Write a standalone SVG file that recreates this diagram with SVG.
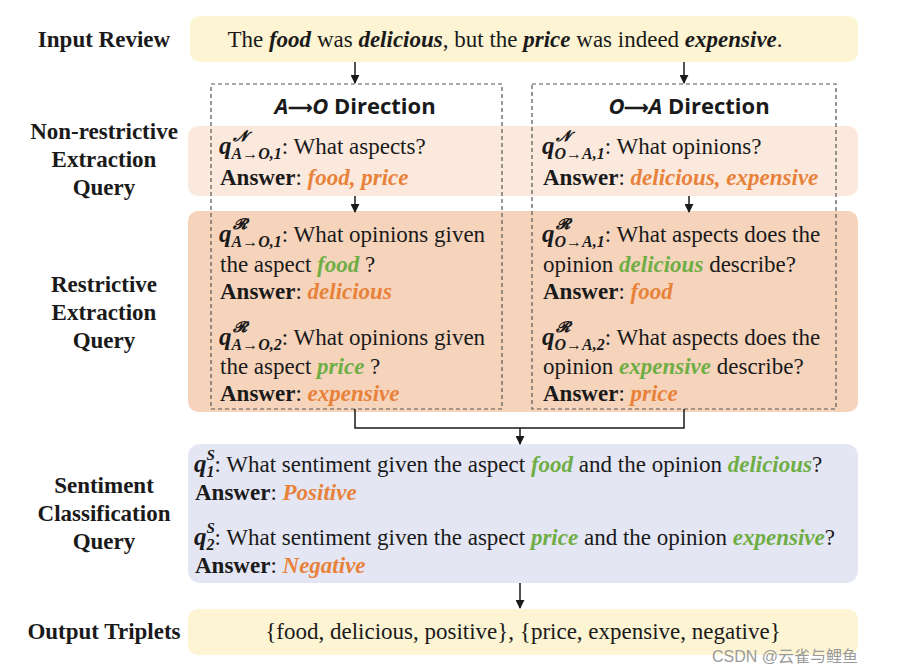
<svg xmlns="http://www.w3.org/2000/svg" width="898" height="672" viewBox="0 0 898 672">
<defs>
<marker id="arr" viewBox="0 0 10 10" refX="9" refY="5" markerWidth="9" markerHeight="9" markerUnits="userSpaceOnUse" orient="auto">
<path d="M0,0 L10,5 L0,10 z" fill="#1a1a1a"/>
</marker>
<style>
text{font-family:"Liberation Serif","Times New Roman",serif;fill:#1a1a1a;}
.t{font-size:23px;}
.lab{font-size:23px;font-weight:bold;text-anchor:middle;}
.b{font-weight:bold;}
.ob{font-weight:bold;font-style:italic;fill:#e8823a;}
.gb{font-weight:bold;font-style:italic;fill:#6fae45;}
.bi{font-weight:bold;font-style:italic;}
.q{font-size:25px;font-weight:bold;font-style:italic;}
.sup{font-size:15px;font-weight:bold;font-style:italic;}
.sub{font-size:16px;font-weight:bold;font-style:italic;}
.dir{font-family:"Open Sans","Noto Sans",sans-serif;font-size:22px;font-weight:bold;text-anchor:middle;}
.ar{font-size:17px;font-style:normal;}
.dash{fill:none;stroke:#555;stroke-width:1.2;stroke-dasharray:4,3;}
.con{fill:none;stroke:#1a1a1a;stroke-width:1.5;}
</style>
</defs>
<rect width="898" height="672" fill="#ffffff"/>

<g id="labels">
<text class="lab" x="104" y="47">Input Review</text>
<text class="lab" x="104" y="139">Non-restrictive</text>
<text class="lab" x="104" y="167">Extraction</text>
<text class="lab" x="104" y="195">Query</text>
<text class="lab" x="104" y="292">Restrictive</text>
<text class="lab" x="104" y="320">Extraction</text>
<text class="lab" x="104" y="348">Query</text>
<text class="lab" x="104" y="493">Sentiment</text>
<text class="lab" x="104" y="521">Classification</text>
<text class="lab" x="104" y="549">Query</text>
<text class="lab" x="104" y="639">Output Triplets</text>
</g>

<g id="input-review">
<rect x="190" y="16" width="668" height="46" rx="10" fill="#fdf4d3"/>
<text class="t" x="505" y="47" text-anchor="middle">The <tspan class="bi">food</tspan> was <tspan class="bi">delicious</tspan>, but the <tspan class="bi">price</tspan> was indeed <tspan class="bi">expensive</tspan>.</text>
</g>

<g id="non-restrictive">
<rect x="188" y="126" width="670" height="70" rx="10" fill="#fbe9dd"/>
</g>
<g id="restrictive">
<rect x="188" y="211" width="670" height="201" rx="10" fill="#f6d4bc"/>
</g>

<g id="ao-direction">
<rect class="dash" x="211" y="84" width="291" height="325"/>
<text class="dir" x="355" y="114"><tspan font-style="italic">A</tspan><tspan class="ar">⟶</tspan><tspan font-style="italic">O</tspan> Direction</text>
<text class="sup" x="233" y="141">𝓝</text>
<text class="t" x="219" y="154"><tspan class="q">q</tspan><tspan class="sub" dy="5">A→O,1</tspan><tspan dy="-5">: What aspects?</tspan></text>
<text class="t" x="220" y="185"><tspan class="b">Answer</tspan>: <tspan class="ob">food, price</tspan></text>

<text class="sup" x="233" y="229">𝓡</text>
<text class="t" x="219" y="242"><tspan class="q">q</tspan><tspan class="sub" dy="5">A→O,1</tspan><tspan dy="-5">: What opinions given</tspan></text>
<text class="t" x="220" y="272">the aspect <tspan class="gb">food</tspan> ?</text>
<text class="t" x="220" y="299"><tspan class="b">Answer</tspan>: <tspan class="ob">delicious</tspan></text>

<text class="sup" x="233" y="332">𝓡</text>
<text class="t" x="219" y="345"><tspan class="q">q</tspan><tspan class="sub" dy="5">A→O,2</tspan><tspan dy="-5">: What opinions given</tspan></text>
<text class="t" x="220" y="374">the aspect <tspan class="gb">price</tspan> ?</text>
<text class="t" x="220" y="401"><tspan class="b">Answer</tspan>: <tspan class="ob">expensive</tspan></text>
</g>

<g id="oa-direction">
<rect class="dash" x="532" y="84" width="304" height="325"/>
<text class="dir" x="689" y="114"><tspan font-style="italic">O</tspan><tspan class="ar">⟶</tspan><tspan font-style="italic">A</tspan> Direction</text>
<text class="sup" x="556" y="141">𝓝</text>
<text class="t" x="542" y="154"><tspan class="q">q</tspan><tspan class="sub" dy="5">O→A,1</tspan><tspan dy="-5">: What opinions?</tspan></text>
<text class="t" x="543" y="185"><tspan class="b">Answer</tspan>: <tspan class="ob">delicious, expensive</tspan></text>

<text class="sup" x="556" y="229">𝓡</text>
<text class="t" x="542" y="242"><tspan class="q">q</tspan><tspan class="sub" dy="5">O→A,1</tspan><tspan dy="-5">: What aspects does the</tspan></text>
<text class="t" x="543" y="272">opinion <tspan class="gb">delicious</tspan> describe?</text>
<text class="t" x="543" y="299"><tspan class="b">Answer</tspan>: <tspan class="ob">food</tspan></text>

<text class="sup" x="556" y="332">𝓡</text>
<text class="t" x="542" y="345"><tspan class="q">q</tspan><tspan class="sub" dy="5">O→A,2</tspan><tspan dy="-5">: What aspects does the</tspan></text>
<text class="t" x="543" y="374">opinion <tspan class="gb">expensive</tspan> describe?</text>
<text class="t" x="543" y="401"><tspan class="b">Answer</tspan>: <tspan class="ob">price</tspan></text>
</g>

<g id="sentiment">
<rect x="188" y="444" width="670" height="139" rx="12" fill="#e4e6f4"/>
<text class="t" x="194" y="472"><tspan class="q">q</tspan><tspan class="sup" dy="-12">S</tspan><tspan class="sub" dx="-8.3" dy="17">1</tspan><tspan dy="-5">: What sentiment given the aspect </tspan><tspan class="gb">food</tspan> and the opinion <tspan class="gb">delicious</tspan>?</text>
<text class="t" x="195" y="500"><tspan class="b">Answer</tspan>: <tspan class="ob">Positive</tspan></text>
<text class="t" x="194" y="545"><tspan class="q">q</tspan><tspan class="sup" dy="-12">S</tspan><tspan class="sub" dx="-8.3" dy="17">2</tspan><tspan dy="-5">: What sentiment given the aspect </tspan><tspan class="gb">price</tspan> and the opinion <tspan class="gb">expensive</tspan>?</text>
<text class="t" x="195" y="573"><tspan class="b">Answer</tspan>: <tspan class="ob">Negative</tspan></text>
</g>

<g id="output-triplets">
<rect x="188" y="609" width="670" height="46" rx="10" fill="#fdf4d3"/>
<text class="t" x="523" y="639" text-anchor="middle">{food, delicious, positive}, {price, expensive, negative}</text>
</g>

<g id="connectors">
<line class="con" x1="355" y1="62" x2="355" y2="83" marker-end="url(#arr)"/>
<line class="con" x1="684" y1="62" x2="684" y2="83" marker-end="url(#arr)"/>
<line class="con" x1="355" y1="196" x2="355" y2="212" marker-end="url(#arr)"/>
<line class="con" x1="689" y1="196" x2="689" y2="212" marker-end="url(#arr)"/>
<polyline class="con" points="355,409 355,428 684,428 684,409"/>
<line class="con" x1="520" y1="428" x2="520" y2="444" marker-end="url(#arr)"/>
<line class="con" x1="520" y1="583" x2="520" y2="608" marker-end="url(#arr)"/>
</g>

<text x="712" y="662" style="font-family:'Liberation Sans','Noto Sans CJK SC',sans-serif;font-size:16px;fill:#9a9a9a">CSDN @云雀与鲤鱼</text>
</svg>
